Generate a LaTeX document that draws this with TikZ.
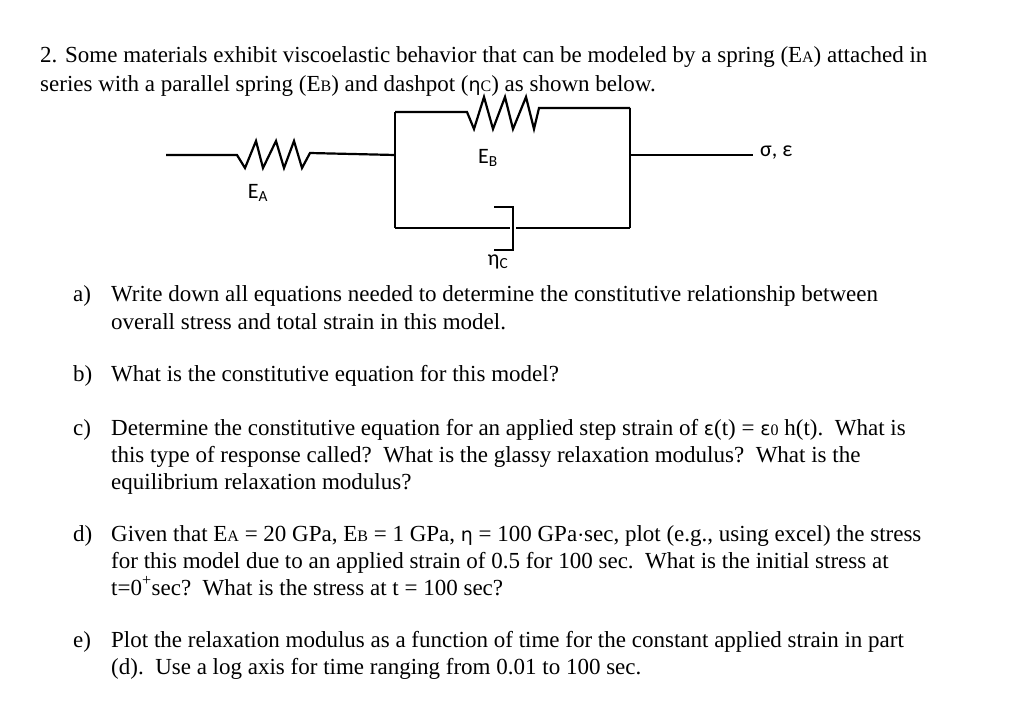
\documentclass[tikz,border=0pt]{standalone}
\usepackage{fontspec}
\setmainfont{Liberation Serif}
\newfontfamily\lblfont{Carlito}
\newfontfamily\symfont{DejaVu Sans}
\newcommand{\sm}[1]{{\fontsize{16}{16}\selectfont #1}}
\newcommand{\gk}[1]{{\symfont\fontsize{19}{19}\selectfont #1}}
\begin{document}
\begin{tikzpicture}[x=1pt,y=-1pt,
  txt/.style={anchor=base west,inner sep=0pt,font=\fontsize{23}{26}\selectfont},
  lbl/.style={inner sep=0pt,font=\fontsize{22}{24}\lblfont},
  wire/.style={line width=2.2pt,line join=miter}]
\useasboundingbox (0,0) rectangle (1024,701);
\fill[white] (0,0) rectangle (1024,701);
% question text
\node[txt] (t1) at (40,63) {2. Some materials exhibit viscoelastic behavior that can be modeled by a spring (E\sm{A}) attached in};
\node[txt] (t2) at (40,91) {series with a parallel spring (E\sm{B}) and dashpot (\gk{η}\sm{C}) as shown below.};
% diagram
\coordinate (L) at (166,155);
\coordinate (BL) at (395,155);
\coordinate (BR) at (630,155);
\coordinate (R) at (753,155);
\draw[wire] (L) -- (237,155) -- (245,168) -- (256,141) -- (263,168) -- (276,141) -- (284,168) -- (294,141) -- (302,168) -- (310,153) -- (BL);
\draw[wire] (395,112) -- (395,228);
\draw[wire] (630,108) -- (630,228);
\draw[wire] (395,112) -- (467,112) -- (474,129) -- (484,97) -- (493,129) -- (505,97) -- (513,129) -- (526,97) -- (534,129) -- (539,108) -- (630,108);
\draw[wire] (BR) -- (R);
\draw[wire] (395,228) -- (510,228);
\draw[wire] (516,228) -- (630,228);
\draw[wire] (494,207) -- (513,207) -- (513,250) -- (494,250);
\node[lbl,anchor=west] (se) at (760,153) {σ, ε};
\node[lbl] (eb) at (488,158) {E\textsubscript{B}};
\node[lbl] (ea) at (258,193) {E\textsubscript{A}};
\node[lbl] (nc) at (498,262) {η\textsubscript{C}};
% parts
\node[txt] (a1) at (73,301) {a)};
\node[txt] (a2) at (111,301) {Write down all equations needed to determine the constitutive relationship between};
\node[txt] (a3) at (111,329) {overall stress and total strain in this model.};
\node[txt] (b1) at (73,381) {b)};
\node[txt] (b2) at (111,381) {What is the constitutive equation for this model?};
\node[txt] (c1) at (73,435) {c)};
\node[txt] (c2) at (111,435) {Determine the constitutive equation for an applied step strain of \gk{ε}(t) = \gk{ε}\sm{0} h(t).\ \ What is};
\node[txt] (c3) at (111,462) {this type of response called?\ \ What is the glassy relaxation modulus?\ \ What is the};
\node[txt] (c4) at (111,489) {equilibrium relaxation modulus?};
\node[txt] (d1) at (73,541) {d)};
\node[txt] (d2) at (111,541) {Given that E\sm{A} = 20 GPa, E\sm{B} = 1 GPa, \gk{η} = 100 GPa$\cdot$sec, plot (e.g., using excel) the stress};
\node[txt] (d3) at (111,568) {for this model due to an applied strain of 0.5 for 100 sec.\ \ What is the initial stress at};
\node[txt] (d4) at (111,595) {t=0\textsuperscript{+}sec?\ \ What is the stress at t = 100 sec?};
\node[txt] (e1) at (73,647) {e)};
\node[txt] (e2) at (111,647) {Plot the relaxation modulus as a function of time for the constant applied strain in part};
\node[txt] (e3) at (111,674) {(d).\ \ Use a log axis for time ranging from 0.01 to 100 sec.};
\end{tikzpicture}
\end{document}
